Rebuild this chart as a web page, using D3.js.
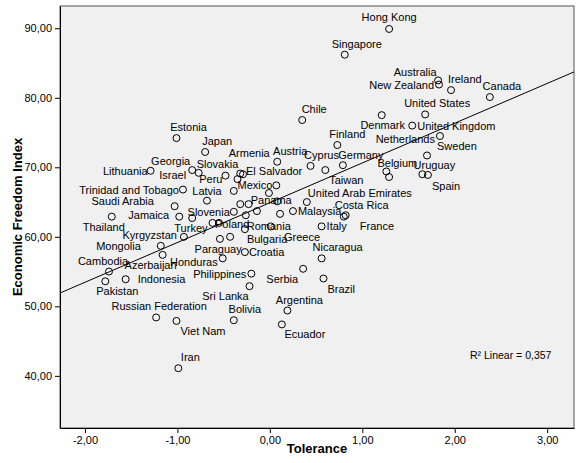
<!DOCTYPE html>
<html>
<head>
<meta charset="utf-8">
<script src="https://cdn.jsdelivr.net/npm/d3@7"></script>
<style>
body { margin: 0; background: #fff; }
text { font-family: "Liberation Sans", Arial, sans-serif; }
</style>
</head>
<body>
<svg id="chart" width="579" height="463"></svg>
<script>
// countries, tolerance (x) and economic freedom index (y)
var countries = ["Hong Kong","Singapore","Australia","New Zealand","Ireland","Canada","Chile","Denmark","United States","United Kingdom",
  "Netherlands","Sweden","Finland","Austria","Cyprus","Taiwan","Germany","Belgium","","Uruguay",
  "Spain","United Arab Emirates","Costa Rica","France","Malaysia","Italy","Nicaragua","Serbia","Brazil","Argentina",
  "Ecuador","Iran","Viet Nam","Russian Federation","Bolivia","Sri Lanka","Philippines","Pakistan","Indonesia","Cambodia",
  "Azerbaijan","Mongolia","Honduras","Croatia","Paraguay","Kyrgyzstan","Bulgaria","Romania","Greece","Poland",
  "Turkey","Slovenia","Jamaica","Thailand","Saudi Arabia","Trinidad and Tobago","Latvia","Lithuania","Georgia","Israel",
  "Peru","Slovakia","Armenia","El Salvador","Mexico","Panama","Japan","Estonia",
  "","","","","","","",""];
var tolerance = [1.29,0.81,1.82,1.83,1.96,2.38,0.35,1.21,1.68,1.54,
  1.84,1.70,0.73,0.08,0.44,0.60,0.79,1.26,1.29,1.65,
  1.71,0.40,0.82,0.80,0.25,0.56,0.56,0.36,0.58,0.19,
  0.13,-0.99,-1.01,-1.23,-0.39,-0.22,-0.20,-1.78,-1.56,-1.74,
  -1.16,-1.18,-0.51,-0.27,-0.43,-0.93,-0.27,0.01,0.11,-0.55,
  -0.62,-0.39,-0.98,-1.71,-1.03,-0.94,-0.68,-1.29,-0.77,-0.84,
  -0.48,-0.35,-0.32,-0.29,0.07,0.08,-0.70,-1.01,
  -0.32,-0.23,-0.14,-0.26,-0.54,-0.01,-0.39,-0.84];
var freedom = [89.9,86.2,82.5,81.9,81.1,80.1,76.8,77.5,77.6,76.0,
  74.5,71.7,73.2,70.8,70.2,69.6,70.3,69.4,68.6,69.0,
  68.9,65.0,63.1,62.9,63.7,61.5,56.9,55.4,54.0,49.4,
  47.4,41.1,47.9,48.4,48.0,52.9,54.7,53.6,53.9,55.0,
  57.4,58.7,56.9,57.8,60.0,60.0,61.1,61.5,63.3,62.0,
  62.0,63.6,62.9,62.9,64.4,66.8,65.2,69.5,69.2,69.6,
  68.8,68.3,69.1,69.0,67.4,65.1,72.2,74.2,
  64.7,64.7,63.7,63.1,59.7,66.3,66.6,62.7];
var xTicks = [-2, -1, 0, 1, 2, 3];
var yTicks = [40, 50, 60, 70, 80, 90];
var fitIntercept = 64.9, fitSlope = 5.72, rSquared = "0,357";

// label placement: [dx, dy, anchor]
var labelPos = {
  "Hong Kong":[0,-8,"middle"],"Singapore":[12,-7,"middle"],"Australia":[-23,-4,"middle"],"New Zealand":[-5,4,"end"],
  "Ireland":[-3,-7,"start"],"Canada":[12,-7,"middle"],"Chile":[12,-7,"middle"],"Denmark":[1,14,"middle"],
  "United States":[12,-7,"middle"],"United Kingdom":[5,4,"start"],"Netherlands":[-5,7,"end"],"Sweden":[10,-5,"start"],
  "Finland":[10,-7,"middle"],"Austria":[13,-7,"middle"],"Cyprus":[11,-7,"middle"],"Taiwan":[21,14,"middle"],
  "Germany":[18,-6,"middle"],"Belgium":[11,-4,"middle"],"Uruguay":[12,-5,"middle"],"Spain":[4,15,"start"],
  "United Arab Emirates":[53,-5,"middle"],"Costa Rica":[16,-6,"middle"],"France":[16,13,"start"],"Malaysia":[5,4,"start"],
  "Italy":[5,4,"start"],"Nicaragua":[16,-7,"middle"],"Serbia":[-5,14,"end"],"Brazil":[4,14,"start"],
  "Argentina":[12,-7,"middle"],"Ecuador":[23,14,"middle"],"Iran":[12,-7,"middle"],"Viet Nam":[4,14,"start"],
  "Russian Federation":[3,-7,"middle"],"Bolivia":[11,-7,"middle"],"Sri Lanka":[-24,14,"middle"],"Philippines":[-5,4,"end"],
  "Pakistan":[12,14,"middle"],"Indonesia":[12,4,"start"],"Cambodia":[-6,-7,"middle"],"Azerbaijan":[-12,14,"middle"],
  "Mongolia":[-20,4,"end"],"Honduras":[-5,8,"end"],"Croatia":[4,4,"start"],"Paraguay":[-12,16,"middle"],
  "Kyrgyzstan":[-7,2,"end"],"Bulgaria":[2,14,"start"],"Romania":[-2,4,"middle"],"Greece":[4,27,"start"],
  "Poland":[-4,5,"start"],"Turkey":[-5,9,"end"],"Slovenia":[-4,4,"end"],"Jamaica":[-10,2,"end"],
  "Thailand":[-8,14,"middle"],"Saudi Arabia":[-52,-1,"middle"],"Trinidad and Tobago":[-4,4,"end"],"Latvia":[0,-6,"middle"],
  "Lithuania":[-3,4,"end"],"Georgia":[-28,-8,"middle"],"Israel":[-6,9,"end"],"Peru":[-3,7,"end"],
  "Slovakia":[-20,-11,"middle"],"Armenia":[9,-17,"middle"],"El Salvador":[3,1,"start"],"Mexico":[-4,4,"end"],
  "Panama":[-6,3,"middle"],"Japan":[12,-7,"middle"],"Estonia":[12,-7,"middle"]
};

var svg = d3.select("#chart");
var pLeft = 60, pRight = 574, pTop = 6, pBottom = 428;

var x = d3.scaleLinear().domain([-2.27, 3.29]).range([pLeft, pRight]);
var y = d3.scaleLinear().domain([32.5, 93.2]).range([pBottom, pTop]);
var fmt = function(v) { return d3.format(".2f")(v).replace(".", ",").replace("\u2212", "-"); };

svg.append("rect")
    .attr("x", pLeft).attr("y", pTop)
    .attr("width", pRight - pLeft).attr("height", pBottom - pTop)
    .attr("fill", "#f0f0f0").attr("stroke", "#555");

svg.append("g")
    .attr("transform", "translate(0," + pBottom + ")")
    .call(d3.axisBottom(x).tickValues(xTicks).tickFormat(fmt).tickSize(5).tickSizeOuter(0))
    .call(g => g.select(".domain").attr("stroke", "#000"))
    .selectAll("text").attr("font-size", 11).attr("fill", "#000");

svg.append("g")
    .attr("transform", "translate(" + pLeft + ",0)")
    .call(d3.axisLeft(y).tickValues(yTicks).tickFormat(fmt).tickSize(5).tickSizeOuter(0))
    .call(g => g.select(".domain").attr("stroke", "#000"))
    .selectAll("text").attr("font-size", 11).attr("fill", "#000");

// fit line
var x0 = x.domain()[0], x1 = x.domain()[1];
svg.append("line")
    .attr("x1", x(x0)).attr("y1", y(fitIntercept + fitSlope * x0))
    .attr("x2", x(x1)).attr("y2", y(fitIntercept + fitSlope * x1))
    .attr("stroke", "#000").attr("stroke-width", 1);

var pts = countries.map(function(c, i) { return {name: c, tx: tolerance[i], fy: freedom[i]}; });

svg.append("g").selectAll("circle")
    .data(pts).join("circle")
    .attr("cx", d => x(d.tx)).attr("cy", d => y(d.fy))
    .attr("r", 3.5).attr("fill", "none").attr("stroke", "#000").attr("stroke-width", 1);

svg.append("g").selectAll("text")
    .data(pts.filter(d => d.name && labelPos[d.name])).join("text")
    .attr("x", d => x(d.tx) + labelPos[d.name][0])
    .attr("y", d => y(d.fy) + labelPos[d.name][1])
    .attr("text-anchor", d => labelPos[d.name][2])
    .attr("font-size", 11).attr("fill", "#000")
    .text(d => d.name);

svg.append("text")
    .attr("x", 470).attr("y", 359)
    .attr("font-size", 10.5)
    .text("R\u00B2 Linear = " + rSquared);

svg.append("text")
    .attr("x", (pLeft + pRight) / 2).attr("y", 453)
    .attr("text-anchor", "middle").attr("font-size", 13).attr("font-weight", "bold")
    .text("Tolerance");

svg.append("text")
    .attr("transform", "translate(22," + ((pTop + pBottom) / 2) + ") rotate(-90)")
    .attr("text-anchor", "middle").attr("font-size", 13).attr("font-weight", "bold")
    .text("Economic Freedom Index");
</script>
</body>
</html>
